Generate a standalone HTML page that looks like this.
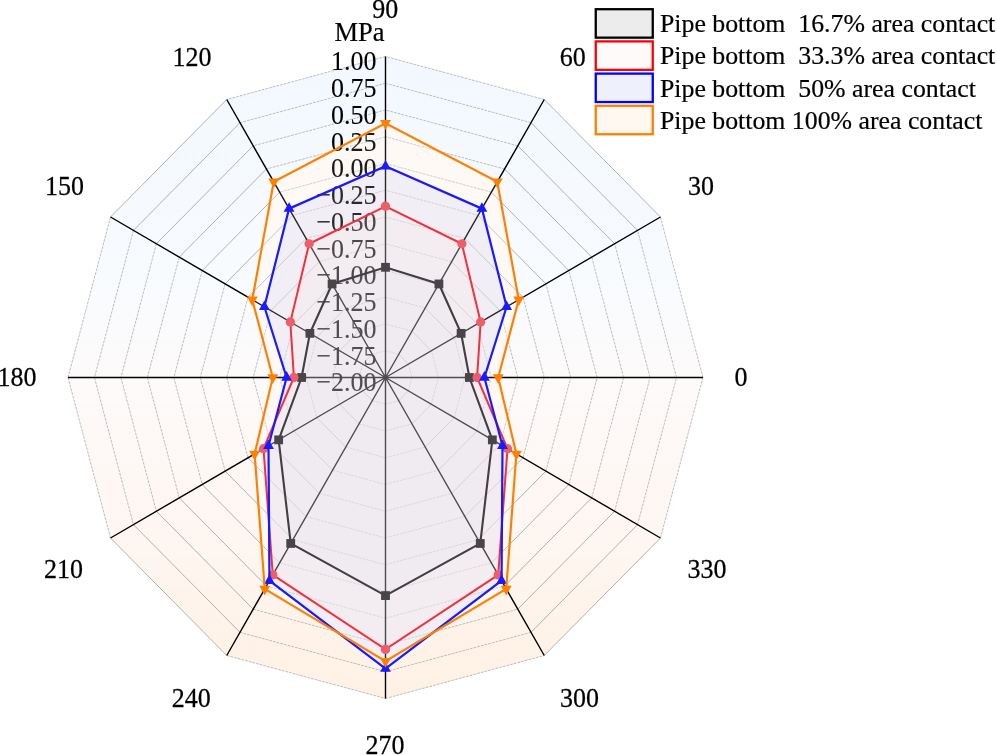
<!DOCTYPE html>
<html><head><meta charset="utf-8"><style>
html,body{margin:0;padding:0;background:#fff;width:997px;height:755px;overflow:hidden}
svg{display:block}
</style></head><body>
<svg width="997" height="755" viewBox="0 0 997 755">
<defs>
<linearGradient id="bg" gradientUnits="userSpaceOnUse" x1="0" y1="56" x2="0" y2="699">
<stop offset="0" stop-color="#f2f8fe"/>
<stop offset="0.35" stop-color="#f8fbfe"/>
<stop offset="0.5" stop-color="#fdfafa"/>
<stop offset="0.75" stop-color="#fef6f1"/>
<stop offset="1" stop-color="#fff1e4"/>
</linearGradient>
</defs>
<polygon points="703.00,377.50 660.46,217.00 544.25,99.51 385.50,56.50 226.75,99.51 110.54,217.00 68.00,377.50 110.54,538.00 226.75,655.49 385.50,698.50 544.25,655.49 660.46,538.00" fill="url(#bg)"/>
<polygon points="498.21,377.50 518.72,299.74 497.26,181.79 385.50,123.20 273.74,181.79 252.28,299.74 272.79,377.50 254.62,453.90 264.77,588.91 385.50,661.30 506.23,588.91 516.38,453.90" fill="#fefaf5"/>
<polygon points="484.40,377.50 506.62,306.80 481.94,208.62 385.50,166.28 289.06,208.62 264.38,306.80 286.60,377.50 268.50,445.79 269.45,580.71 385.50,668.61 501.55,580.71 502.50,445.79" fill="#efedf8"/>
<polygon points="477.10,377.50 480.64,321.97 461.86,243.78 385.50,206.25 309.14,243.78 290.36,321.97 293.90,377.50 263.50,448.71 272.79,574.88 385.50,649.39 498.21,574.88 507.50,448.71" fill="#f2ecf0"/>
<polygon points="469.42,377.50 461.11,333.36 438.92,283.95 385.50,267.30 332.08,283.95 309.89,333.36 301.58,377.50 278.65,439.87 290.73,543.46 385.50,595.59 480.27,543.46 492.35,439.87" fill="#eee9f1"/>
<path d="M408.41 364.12L398.73 354.33M372.27 354.33L362.59 364.12M362.59 390.88L372.27 400.67M398.73 400.67L408.41 390.88M431.33 350.75L411.96 331.17M359.04 331.17L339.67 350.75M339.67 404.25L359.04 423.83M411.96 423.83L431.33 404.25M454.24 337.38L425.19 308.00M345.81 308.00L316.76 337.38M316.76 417.62L345.81 447.00M425.19 447.00L454.24 417.63M477.15 324.00L438.42 284.84M332.58 284.84L293.85 324.00M293.85 431.00L332.58 470.16M438.42 470.16L477.15 431.00M500.07 310.62L451.65 261.67M319.35 261.67L270.93 310.62M270.93 444.38L319.35 493.33M451.65 493.33L500.07 444.38M522.98 297.25L464.88 238.50M306.12 238.50L248.02 297.25M248.02 457.75L306.12 516.50M464.88 516.50L522.98 457.75M545.90 283.88L478.10 215.34M292.90 215.34L225.10 283.88M225.10 471.12L292.90 539.66M478.10 539.66L545.90 471.13M568.81 270.50L491.33 192.17M279.67 192.17L202.19 270.50M202.19 484.50L279.67 562.83M491.33 562.83L568.81 484.50M591.72 257.12L504.56 169.00M266.44 169.00L179.28 257.12M179.28 497.88L266.44 586.00M504.56 586.00L591.72 497.88M614.64 243.75L517.79 145.84M253.21 145.84L156.36 243.75M156.36 511.25L253.21 609.16M517.79 609.16L614.64 511.25M637.55 230.38L531.02 122.67M239.98 122.67L133.45 230.38M133.45 524.62L239.98 632.33M531.02 632.33L637.55 524.63M660.46 217.00L544.25 99.51M226.75 99.51L110.54 217.00M110.54 538.00L226.75 655.49M544.25 655.49L660.46 538.00" fill="none" stroke="#9e9e9e" stroke-width="0.8"/>
<path d="M411.96 377.50L408.41 364.12M398.73 354.33L385.50 350.75M385.50 350.75L372.27 354.33M362.59 364.12L359.04 377.50M359.04 377.50L362.59 390.88M372.27 400.67L385.50 404.25M385.50 404.25L398.73 400.67M408.41 390.88L411.96 377.50M438.42 377.50L431.33 350.75M411.96 331.17L385.50 324.00M385.50 324.00L359.04 331.17M339.67 350.75L332.58 377.50M332.58 377.50L339.67 404.25M359.04 423.83L385.50 431.00M385.50 431.00L411.96 423.83M431.33 404.25L438.42 377.50M464.88 377.50L454.24 337.38M425.19 308.00L385.50 297.25M385.50 297.25L345.81 308.00M316.76 337.38L306.12 377.50M306.12 377.50L316.76 417.62M345.81 447.00L385.50 457.75M385.50 457.75L425.19 447.00M454.24 417.63L464.88 377.50M491.33 377.50L477.15 324.00M438.42 284.84L385.50 270.50M385.50 270.50L332.58 284.84M293.85 324.00L279.67 377.50M279.67 377.50L293.85 431.00M332.58 470.16L385.50 484.50M385.50 484.50L438.42 470.16M477.15 431.00L491.33 377.50M517.79 377.50L500.07 310.62M451.65 261.67L385.50 243.75M385.50 243.75L319.35 261.67M270.93 310.62L253.21 377.50M253.21 377.50L270.93 444.38M319.35 493.33L385.50 511.25M385.50 511.25L451.65 493.33M500.07 444.38L517.79 377.50M544.25 377.50L522.98 297.25M464.88 238.50L385.50 217.00M385.50 217.00L306.12 238.50M248.02 297.25L226.75 377.50M226.75 377.50L248.02 457.75M306.12 516.50L385.50 538.00M385.50 538.00L464.88 516.50M522.98 457.75L544.25 377.50M570.71 377.50L545.90 283.88M478.10 215.34L385.50 190.25M385.50 190.25L292.90 215.34M225.10 283.88L200.29 377.50M200.29 377.50L225.10 471.12M292.90 539.66L385.50 564.75M385.50 564.75L478.10 539.66M545.90 471.13L570.71 377.50M597.17 377.50L568.81 270.50M491.33 192.17L385.50 163.50M385.50 163.50L279.67 192.17M202.19 270.50L173.83 377.50M173.83 377.50L202.19 484.50M279.67 562.83L385.50 591.50M385.50 591.50L491.33 562.83M568.81 484.50L597.17 377.50M623.62 377.50L591.72 257.12M504.56 169.00L385.50 136.75M385.50 136.75L266.44 169.00M179.28 257.12L147.38 377.50M147.38 377.50L179.28 497.88M266.44 586.00L385.50 618.25M385.50 618.25L504.56 586.00M591.72 497.88L623.62 377.50M650.08 377.50L614.64 243.75M517.79 145.84L385.50 110.00M385.50 110.00L253.21 145.84M156.36 243.75L120.92 377.50M120.92 377.50L156.36 511.25M253.21 609.16L385.50 645.00M385.50 645.00L517.79 609.16M614.64 511.25L650.08 377.50M676.54 377.50L637.55 230.38M531.02 122.67L385.50 83.25M385.50 83.25L239.98 122.67M133.45 230.38L94.46 377.50M94.46 377.50L133.45 524.62M239.98 632.33L385.50 671.75M385.50 671.75L531.02 632.33M637.55 524.63L676.54 377.50M703.00 377.50L660.46 217.00M544.25 99.51L385.50 56.50M385.50 56.50L226.75 99.51M110.54 217.00L68.00 377.50M68.00 377.50L110.54 538.00M226.75 655.49L385.50 698.50M385.50 698.50L544.25 655.49M660.46 538.00L703.00 377.50" fill="none" stroke="#aaaaaa" stroke-width="0.75" stroke-dasharray="2.8 1.0"/>
<polygon points="498.21,377.50 518.72,299.74 497.26,181.79 385.50,123.20 273.74,181.79 252.28,299.74 272.79,377.50 254.62,453.90 264.77,588.91 385.50,661.30 506.23,588.91 516.38,453.90" fill="#fefaf5" opacity="0.2"/>
<polygon points="484.40,377.50 506.62,306.80 481.94,208.62 385.50,166.28 289.06,208.62 264.38,306.80 286.60,377.50 268.50,445.79 269.45,580.71 385.50,668.61 501.55,580.71 502.50,445.79" fill="#efedf8" opacity="0.1"/>
<polygon points="477.10,377.50 480.64,321.97 461.86,243.78 385.50,206.25 309.14,243.78 290.36,321.97 293.90,377.50 263.50,448.71 272.79,574.88 385.50,649.39 498.21,574.88 507.50,448.71" fill="#f2ecf0" opacity="0.15"/>
<path d="M385.5 377.5L703.00 377.50M385.5 377.5L660.46 217.00M385.5 377.5L544.25 99.51M385.5 377.5L385.50 56.50M385.5 377.5L226.75 99.51M385.5 377.5L110.54 217.00M385.5 377.5L68.00 377.50M385.5 377.5L110.54 538.00M385.5 377.5L226.75 655.49M385.5 377.5L385.50 698.50M385.5 377.5L544.25 655.49M385.5 377.5L660.46 538.00" stroke="#000" stroke-width="1.4"/>
<g font-family="Liberation Serif, serif" font-size="26" text-anchor="end" fill="#000" stroke="#000" stroke-width="0.1"><text transform="translate(376.5 70.40) scale(1 1.05)">1.00</text><text transform="translate(376.5 97.15) scale(1 1.05)">0.75</text><text transform="translate(376.5 123.90) scale(1 1.05)">0.50</text><text transform="translate(376.5 150.65) scale(1 1.05)">0.25</text><text transform="translate(376.5 177.40) scale(1 1.05)">0.00</text><text transform="translate(376.5 204.15) scale(1 1.05)">−0.25</text><text transform="translate(376.5 230.90) scale(1 1.05)">−0.50</text><text transform="translate(376.5 257.65) scale(1 1.05)">−0.75</text><text transform="translate(376.5 284.40) scale(1 1.05)">−1.00</text><text transform="translate(376.5 311.15) scale(1 1.05)">−1.25</text><text transform="translate(376.5 337.90) scale(1 1.05)">−1.50</text><text transform="translate(376.5 364.65) scale(1 1.05)">−1.75</text><text transform="translate(376.5 391.40) scale(1 1.05)">−2.00</text></g>
<text x="384.5" y="40.9" font-family="Liberation Serif, serif" font-size="26.5" text-anchor="end" stroke="#000" stroke-width="0.2">MPa</text>
<polygon points="498.21,377.50 518.72,299.74 497.26,181.79 385.50,123.20 273.74,181.79 252.28,299.74 272.79,377.50 254.62,453.90 264.77,588.91 385.50,661.30 506.23,588.91 516.38,453.90" fill="#fefaf5" opacity="0.1"/>
<polygon points="484.40,377.50 506.62,306.80 481.94,208.62 385.50,166.28 289.06,208.62 264.38,306.80 286.60,377.50 268.50,445.79 269.45,580.71 385.50,668.61 501.55,580.71 502.50,445.79" fill="#efedf8" opacity="0.08"/>
<polygon points="477.10,377.50 480.64,321.97 461.86,243.78 385.50,206.25 309.14,243.78 290.36,321.97 293.90,377.50 263.50,448.71 272.79,574.88 385.50,649.39 498.21,574.88 507.50,448.71" fill="#f2ecf0" opacity="0.16"/>
<polygon points="469.42,377.50 461.11,333.36 438.92,283.95 385.50,267.30 332.08,283.95 309.89,333.36 301.58,377.50 278.65,439.87 290.73,543.46 385.50,595.59 480.27,543.46 492.35,439.87" fill="#eee9f1" opacity="0.03"/>
<polygon points="469.42,377.50 461.11,333.36 438.92,283.95 385.50,267.30 332.08,283.95 309.89,333.36 301.58,377.50 278.65,439.87 290.73,543.46 385.50,595.59 480.27,543.46 492.35,439.87" fill="none" stroke="#423e44" stroke-width="2.1" stroke-linejoin="miter"/>
<g fill="#48444a"><rect x="465.02" y="373.10" width="8.8" height="8.8"/><rect x="456.71" y="328.96" width="8.8" height="8.8"/><rect x="434.52" y="279.55" width="8.8" height="8.8"/><rect x="381.10" y="262.90" width="8.8" height="8.8"/><rect x="327.68" y="279.55" width="8.8" height="8.8"/><rect x="305.49" y="328.96" width="8.8" height="8.8"/><rect x="297.18" y="373.10" width="8.8" height="8.8"/><rect x="274.25" y="435.47" width="8.8" height="8.8"/><rect x="286.33" y="539.06" width="8.8" height="8.8"/><rect x="381.10" y="591.19" width="8.8" height="8.8"/><rect x="475.87" y="539.06" width="8.8" height="8.8"/><rect x="487.95" y="435.47" width="8.8" height="8.8"/></g>
<polygon points="477.10,377.50 480.64,321.97 461.86,243.78 385.50,206.25 309.14,243.78 290.36,321.97 293.90,377.50 263.50,448.71 272.79,574.88 385.50,649.39 498.21,574.88 507.50,448.71" fill="none" stroke="#f4303c" stroke-width="2.0" stroke-linejoin="miter"/>
<g fill="#ec5e6a"><circle cx="477.10" cy="377.50" r="4.65"/><circle cx="480.64" cy="321.97" r="4.65"/><circle cx="461.86" cy="243.78" r="4.65"/><circle cx="385.50" cy="206.25" r="4.65"/><circle cx="309.14" cy="243.78" r="4.65"/><circle cx="290.36" cy="321.97" r="4.65"/><circle cx="293.90" cy="377.50" r="4.65"/><circle cx="263.50" cy="448.71" r="4.65"/><circle cx="272.79" cy="574.88" r="4.65"/><circle cx="385.50" cy="649.39" r="4.65"/><circle cx="498.21" cy="574.88" r="4.65"/><circle cx="507.50" cy="448.71" r="4.65"/></g>
<polygon points="484.40,377.50 506.62,306.80 481.94,208.62 385.50,166.28 289.06,208.62 264.38,306.80 286.60,377.50 268.50,445.79 269.45,580.71 385.50,668.61 501.55,580.71 502.50,445.79" fill="none" stroke="#1a1aff" stroke-width="2.2" stroke-linejoin="miter"/>
<g fill="#1a1aff"><polygon points="484.40,371.10 479.00,380.70 489.80,380.70"/><polygon points="506.62,300.40 501.22,310.00 512.02,310.00"/><polygon points="481.94,202.22 476.54,211.82 487.34,211.82"/><polygon points="385.50,159.88 380.10,169.48 390.90,169.48"/><polygon points="289.06,202.22 283.66,211.82 294.46,211.82"/><polygon points="264.38,300.40 258.98,310.00 269.78,310.00"/><polygon points="286.60,371.10 281.20,380.70 292.00,380.70"/><polygon points="268.50,439.39 263.10,448.99 273.90,448.99"/><polygon points="269.45,574.31 264.05,583.91 274.85,583.91"/><polygon points="385.50,662.21 380.10,671.81 390.90,671.81"/><polygon points="501.55,574.31 496.15,583.91 506.95,583.91"/><polygon points="502.50,439.39 497.10,448.99 507.90,448.99"/></g>
<polygon points="498.21,377.50 518.72,299.74 497.26,181.79 385.50,123.20 273.74,181.79 252.28,299.74 272.79,377.50 254.62,453.90 264.77,588.91 385.50,661.30 506.23,588.91 516.38,453.90" fill="none" stroke="#ff8000" stroke-width="2.2" stroke-linejoin="miter"/>
<g fill="#ff8000"><polygon points="498.21,384.03 492.76,374.23 503.66,374.23"/><polygon points="518.72,306.27 513.27,296.47 524.17,296.47"/><polygon points="497.26,188.33 491.81,178.53 502.71,178.53"/><polygon points="385.50,129.74 380.05,119.94 390.95,119.94"/><polygon points="273.74,188.33 268.29,178.53 279.19,178.53"/><polygon points="252.28,306.27 246.83,296.47 257.73,296.47"/><polygon points="272.79,384.03 267.34,374.23 278.24,374.23"/><polygon points="254.62,460.43 249.17,450.63 260.07,450.63"/><polygon points="264.77,595.45 259.32,585.65 270.22,585.65"/><polygon points="385.50,667.83 380.05,658.03 390.95,658.03"/><polygon points="506.23,595.45 500.78,585.65 511.68,585.65"/><polygon points="516.38,460.43 510.93,450.63 521.83,450.63"/></g>
<g font-family="Liberation Serif, serif" font-size="26" text-anchor="middle" stroke="#000" stroke-width="0.25"><text transform="translate(741.00 386.30) scale(1 1.06)">0</text><text transform="translate(700.95 195.20) scale(1 1.06)">30</text><text transform="translate(572.85 65.90) scale(1 1.06)">60</text><text transform="translate(385.15 17.80) scale(1 1.06)">90</text><text transform="translate(191.95 65.90) scale(1 1.06)">120</text><text transform="translate(64.40 195.20) scale(1 1.06)">150</text><text transform="translate(16.93 386.00) scale(1 1.06)">180</text><text transform="translate(63.55 578.20) scale(1 1.06)">210</text><text transform="translate(191.35 706.90) scale(1 1.06)">240</text><text transform="translate(384.90 753.90) scale(1 1.06)">270</text><text transform="translate(579.45 706.90) scale(1 1.06)">300</text><text transform="translate(707.10 578.20) scale(1 1.06)">330</text></g>
<rect x="595.75" y="9.20" width="57" height="28.45" fill="#ececec" stroke="#000" stroke-width="2.3"/>
<text x="660" y="32.10" font-family="Liberation Serif, serif" font-size="25.8" stroke="#000" stroke-width="0.2" style="white-space:pre">Pipe bottom  16.7% area contact</text>
<rect x="595.75" y="41.40" width="57" height="28.45" fill="#fffafa" stroke="#ff0000" stroke-width="2.3"/>
<text x="660" y="64.30" font-family="Liberation Serif, serif" font-size="25.8" stroke="#000" stroke-width="0.2" style="white-space:pre">Pipe bottom  33.3% area contact</text>
<rect x="595.75" y="73.60" width="57" height="28.45" fill="#eef0fc" stroke="#0000ff" stroke-width="2.3"/>
<text x="660" y="96.50" font-family="Liberation Serif, serif" font-size="25.8" stroke="#000" stroke-width="0.2" style="white-space:pre">Pipe bottom  50% area contact</text>
<rect x="595.75" y="105.80" width="57" height="28.45" fill="#fff8f1" stroke="#ff8000" stroke-width="2.3"/>
<text x="660" y="128.70" font-family="Liberation Serif, serif" font-size="25.8" stroke="#000" stroke-width="0.2" style="white-space:pre">Pipe bottom 100% area contact</text>
</svg>
</body></html>
